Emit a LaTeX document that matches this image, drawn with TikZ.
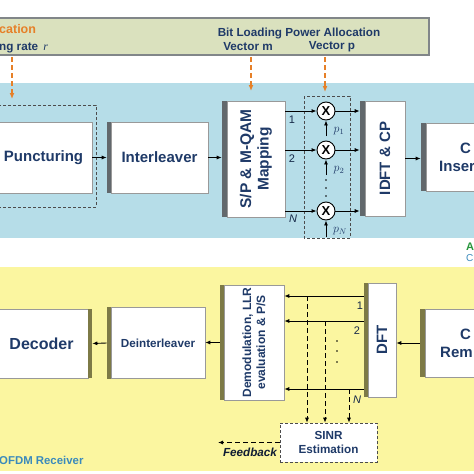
\documentclass[tikz,border=0pt]{standalone}
\usepackage{fontspec}
\setmainfont{Liberation Sans}
\newfontfamily\serf{Liberation Serif}
\usetikzlibrary{arrows.meta,calc}
\definecolor{bluebg}{RGB}{182,221,232}
\definecolor{yelbg}{RGB}{251,246,160}
\definecolor{bannerc}{RGB}{218,225,190}
\definecolor{navy}{RGB}{31,58,104}
\definecolor{orng}{RGB}{230,128,40}
\definecolor{shdT}{RGB}{98,104,108}
\definecolor{shdB}{RGB}{125,122,70}
\definecolor{tealc}{RGB}{58,138,188}
\definecolor{grn}{RGB}{40,150,60}
\tikzset{
 blk/.style={draw=gray!80, fill=white, line width=0.6pt, inner sep=0pt},
 arr/.style={-{Latex[length=5pt,width=4pt]}, line width=0.9pt, black},
 oarr/.style={-{Latex[length=6pt,width=5pt]}, dash pattern=on 5pt off 3pt, line width=1.3pt, orng},
 darr/.style={-{Latex[length=5pt,width=4pt]}, dash pattern=on 5pt off 3pt, line width=1pt, black},
 big/.style={font=\fontsize{15}{17}\selectfont\bfseries, text=navy, inner sep=0pt},
 mid/.style={font=\fontsize{11.7}{13.5}\selectfont\bfseries, text=navy, inner sep=0pt},
 mul/.style={circle, draw=black, line width=0.9pt, fill=white, minimum size=18pt, inner sep=0pt, font=\fontsize{13}{13}\selectfont\bfseries},
 numl/.style={font=\fontsize{11}{11}\selectfont, text=navy!70!black, inner sep=0pt},
 plab/.style={font=\fontsize{12}{12}\selectfont, text=navy, inner sep=0pt},
 dbox/.style={dash pattern=on 3pt off 2pt, draw=gray!60!black, line width=0.8pt},
}
\begin{document}
\begin{tikzpicture}[x=1pt,y=-1pt]
\useasboundingbox (0,0) rectangle (474,474);
\clip (0,0) rectangle (474,474);
\fill[white] (0,0) rectangle (474,474);
\fill[bluebg] (0,83) rectangle (474,238);
\fill[yelbg] (0,267) rectangle (474,471);
% banner
\fill[bannerc] (-5,18) rectangle (429,55);
\draw[shdT!80, line width=1.6pt] (-5,18) -- (429,18) -- (429,55) -- (-5,55);
\node[anchor=west, font=\fontsize{12.5}{14}\selectfont\bfseries, text=orng, inner sep=0pt] (alloc) at (-1,29) {cation};
\node[anchor=west, mid] (rate) at (-1,48) {ng rate \,{\serf\mdseries\itshape r}};
\node[mid] (blpa) at (299,33) {Bit Loading Power Allocation};
\node[mid] (vm) at (248,47) {Vector m};
\node[mid] (vp) at (332,47) {Vector p};
\coordinate (o1s) at (12,57); \coordinate (o1e) at (12,99);
\coordinate (o2s) at (251,57); \coordinate (o2e) at (251,91);
\coordinate (o3s) at (325,57); \coordinate (o3e) at (325,92);
\draw[oarr] (o1s) -- (o1e);
\draw[oarr] (o2s) -- (o2e);
\draw[oarr] (o3s) -- (o3e);

% transmitter
\draw[dbox] (-5,105) rectangle (96,207);
\node[blk, minimum width=97, minimum height=71] (punct) at (43.5,157.5) {};
\node[big] (punctT) at (punct) {Puncturing};
\node[blk, minimum width=97, minimum height=71] (inter) at (159.5,157.5) {};
\fill[shdT] ($(inter.north west)+(-4,0)$) rectangle (inter.south west);
\node[big] (interT) at (inter) {Interleaver};
\node[blk, minimum width=58, minimum height=116] (sp) at (256,159) {};
\fill[shdT] ($(sp.north west)+(-5,0)$) rectangle (sp.south west);
\node[font=\fontsize{15.5}{17.5}\selectfont\bfseries, text=navy, inner sep=0pt, rotate=90, align=center] (spT) at (sp) {S/P \& M-QAM\\Mapping};
\draw[dbox] (304,96) rectangle (350,238);
\node[mul] (m1) at (326,111) {X};
\node[mul] (m2) at (326,150) {X};
\node[mul] (m3) at (326,211) {X};
\node[blk, minimum width=40, minimum height=115] (idft) at (385,158.5) {};
\fill[shdT] ($(idft.north west)+(-5,0)$) rectangle (idft.south west);
\node[big, rotate=90] (idftT) at (idft) {IDFT \& CP};
\node[blk, minimum width=94, minimum height=68] (cpins) at (473,157) {};
\fill[shdT] ($(cpins.north west)+(-5,0)$) rectangle (cpins.south west);
\node[big, anchor=west] (cpinsT1) at (460,148) {C};
\node[big, anchor=west] (cpinsT2) at (439,166) {Inser};

\draw[arr] (punct.east) -- ($(inter.west)+(-4,0)$);
\draw[arr] (inter.east) -- ($(inter.east -| sp.west)+(-5,0)$);
\foreach \m in {m1,m2,m3}{
  \draw[arr] (sp.east |- \m) -- (\m);
  \draw[arr] (\m) -- ($(\m -| idft.west)+(-5,0)$);
}
\node[numl] (n1) at (292,120) {1};
\node[numl] (n2) at (292,159) {2};
\node[numl] (nN) at (293,219) {\itshape N};
\coordinate (p1s) at (326,136);
\coordinate (p2s) at (326,175);
\coordinate (p3s) at (326,237);
\draw[arr] (p1s) -- (m1);
\draw[arr] (p2s) -- (m2);
\draw[arr] (p3s) -- (m3);
\node[plab] (p1) at (339,131) {$p_1$};
\node[plab] (p2) at (339,170) {$p_2$};
\node[plab] (pN) at (340,231) {$p_N$};
\foreach \yy in {180,188,196} \fill[black] (326,\yy) circle (0.9pt);
\draw[arr] (idft.east) -- ($(idft.east -| cpins.west)+(-5,0)$);
\node[anchor=west, font=\fontsize{11}{12}\selectfont\bfseries, text=grn, inner sep=0pt] (ga) at (466,247) {A};
\node[anchor=west, font=\fontsize{10}{12}\selectfont, text=tealc, inner sep=0pt] (gc) at (466,258) {C};

% receiver
\node[blk, minimum width=93, minimum height=69] (dec) at (41.5,343.5) {};
\fill[shdB] (dec.north east) rectangle ($(dec.south east)+(4,0)$);
\node[font=\fontsize{16}{18}\selectfont\bfseries, text=navy, inner sep=0pt] (decT) at (dec) {Decoder};
\node[blk, minimum width=94, minimum height=71] (deint) at (158,343) {};
\fill[shdB] ($(deint.north west)+(-4,0)$) rectangle (deint.south west);
\node[mid] (deintT) at (deint) {Deinterleaver};
\node[blk, minimum width=60, minimum height=115] (demod) at (254,342.5) {};
\fill[shdB] ($(demod.north west)+(-4,0)$) rectangle (demod.south west);
\node[font=\fontsize{12}{14}\selectfont\bfseries, text=navy, inner sep=0pt, rotate=90, align=center] (demodT) at (demod) {Demodulation, LLR\\evaluation \& P/S};
\node[blk, minimum width=28, minimum height=114] (dft) at (382,340) {};
\fill[shdB] ($(dft.north west)+(-4,0)$) rectangle (dft.south west);
\node[big, rotate=90] (dftT) at (dft) {DFT};
\node[blk, minimum width=95, minimum height=68] (cprem) at (472.5,343) {};
\fill[shdB] ($(cprem.north west)+(-5,0)$) rectangle (cprem.south west);
\node[big, anchor=west] (cpremT1) at (460,334) {C};
\node[big, anchor=west] (cpremT2) at (440,352) {Rem};
\node[blk, dash pattern=on 3pt off 2pt, draw=gray!60!black, minimum width=97, minimum height=39] (sinr) at (328.5,442.5) {};
\node[mid, align=center] (sinrT) at (sinr) {SINR\\Estimation};

\draw[arr] ($(deint.west)+(-4,0)$) -- ($(dec.east)+(4,0)$);
\draw[arr] ($(demod.west)+(-4,0)$) -- (deint.east |- demod.west);
\draw[arr] ($(cprem.west)+(-5,0)$) -- (dft.east |- cprem.west);
\coordinate (d1) at (364,296);
\coordinate (d2) at (364,321);
\coordinate (d3) at (364,389);
\draw[arr] (d1) -- (d1 -| demod.east);
\draw[arr] (d2) -- (d2 -| demod.east);
\draw[arr] (d3) -- (d3 -| demod.east);
\node[numl] (r1) at (360,306) {1};
\node[numl] (r2) at (357,331) {2};
\node[numl] (rN) at (357,400) {\itshape N};
\coordinate (v1) at (307,296);
\coordinate (v2) at (325,321);
\coordinate (v3) at (349,389);
\draw[darr] (v1) -- (v1 |- sinr.north);
\draw[darr] (v2) -- (v2 |- sinr.north);
\draw[darr] (v3) -- (v3 |- sinr.north);
\foreach \yy in {341,351,362} \fill[black] (337,\yy) circle (0.9pt);
\coordinate (fb) at (218,442.5);
\draw[darr, line width=1.2pt] (sinr.west) -- (fb);
\node[font=\fontsize{11.7}{13}\selectfont\bfseries\itshape, text=navy!50!black, inner sep=0pt] (fbT) at (250,452) {Feedback};
\node[anchor=west, font=\fontsize{11.4}{13}\selectfont\bfseries, text=tealc, inner sep=0pt] (rx) at (-1,460) {OFDM Receiver};
\end{tikzpicture}
\end{document}
